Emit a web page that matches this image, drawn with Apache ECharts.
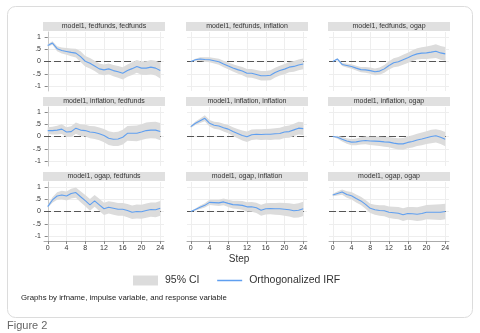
<!DOCTYPE html>
<html>
<head>
<meta charset="utf-8">
<script src="https://cdn.jsdelivr.net/npm/echarts@6/dist/echarts.min.js"></script>
<style>
html,body{margin:0;padding:0;background:#fff;}
#chart{width:480px;height:333px;}
</style>
</head>
<body>
<div id="chart"></div>
<script>
// ---- data ----
const steps = [0,1,2,3,4,5,6,7,8,9,10,11,12,13,14,15,16,17,18,19,20,21,22,23,24];
const xTicks = [0,4,8,12,16,20,24];
const yTicks = [-1,-0.5,0,0.5,1];

const panelTitles = [
  'model1, fedfunds, fedfunds','model1, fedfunds, inflation','model1, fedfunds, ogap',
  'model1, inflation, fedfunds','model1, inflation, inflation','model1, inflation, ogap',
  'model1, ogap, fedfunds','model1, ogap, inflation','model1, ogap, ogap'
];

// fedfunds -> fedfunds
const irf_ff_ff = [0.65,0.75,0.52,0.45,0.41,0.37,0.34,0.20,0.01,-0.07,-0.18,-0.30,-0.34,-0.30,-0.37,-0.42,-0.48,-0.37,-0.29,-0.20,-0.27,-0.27,-0.23,-0.27,-0.37];
const hi_ff_ff  = [0.70,0.82,0.62,0.57,0.55,0.53,0.52,0.42,0.22,0.14,0.03,-0.08,-0.12,-0.08,-0.14,-0.18,-0.23,-0.12,-0.03,0.06,0.00,0.01,0.06,0.03,-0.05];
const lo_ff_ff  = [0.60,0.68,0.42,0.33,0.27,0.21,0.16,-0.02,-0.20,-0.28,-0.39,-0.52,-0.56,-0.52,-0.60,-0.66,-0.73,-0.62,-0.55,-0.46,-0.54,-0.55,-0.52,-0.57,-0.69];
// fedfunds -> inflation
const irf_ff_inf = [0,0.07,0.10,0.08,0.07,0.03,-0.01,-0.10,-0.18,-0.26,-0.33,-0.39,-0.48,-0.48,-0.53,-0.58,-0.58,-0.56,-0.45,-0.37,-0.31,-0.23,-0.20,-0.14,-0.10];
const hi_ff_inf  = [0.00,0.11,0.17,0.17,0.17,0.14,0.11,0.03,-0.04,-0.11,-0.17,-0.22,-0.31,-0.30,-0.35,-0.39,-0.39,-0.36,-0.25,-0.17,-0.10,-0.02,0.02,0.08,0.12];
const lo_ff_inf  = [0.00,0.03,0.03,-0.01,-0.03,-0.08,-0.13,-0.23,-0.32,-0.41,-0.49,-0.56,-0.65,-0.66,-0.71,-0.77,-0.77,-0.76,-0.65,-0.57,-0.52,-0.44,-0.42,-0.36,-0.32];
// fedfunds -> ogap
const irf_ff_og = [0,0.10,-0.12,-0.16,-0.20,-0.27,-0.33,-0.34,-0.37,-0.42,-0.39,-0.30,-0.16,-0.05,-0.01,0.07,0.15,0.24,0.31,0.34,0.35,0.38,0.42,0.35,0.31];
const hi_ff_og  = [0.00,0.14,-0.06,-0.08,-0.11,-0.17,-0.22,-0.22,-0.24,-0.28,-0.24,-0.14,0.01,0.13,0.18,0.27,0.36,0.46,0.54,0.58,0.61,0.65,0.70,0.63,0.59];
const lo_ff_og  = [0.00,0.06,-0.18,-0.24,-0.29,-0.37,-0.44,-0.46,-0.50,-0.56,-0.54,-0.46,-0.33,-0.23,-0.20,-0.13,-0.06,0.02,0.08,0.10,0.10,0.12,0.14,0.07,0.03];
// inflation -> fedfunds
const irf_inf_ff = [0.24,0.24,0.26,0.30,0.18,0.20,0.34,0.26,0.24,0.18,0.16,0.11,0.04,-0.07,-0.11,-0.10,-0.03,0.13,0.13,0.13,0.18,0.24,0.26,0.26,0.20];
const hi_inf_ff  = [0.38,0.40,0.44,0.50,0.38,0.42,0.57,0.50,0.48,0.43,0.42,0.37,0.31,0.21,0.17,0.19,0.27,0.43,0.44,0.45,0.50,0.57,0.59,0.60,0.55];
const lo_inf_ff  = [0.10,0.08,0.08,0.10,-0.02,-0.02,0.11,0.02,0.00,-0.07,-0.10,-0.15,-0.23,-0.35,-0.39,-0.39,-0.33,-0.17,-0.18,-0.19,-0.14,-0.09,-0.07,-0.08,-0.15];
// inflation -> inflation
const irf_inf_inf = [0.40,0.54,0.64,0.74,0.54,0.46,0.43,0.36,0.30,0.20,0.12,0.04,-0.01,0.07,0.09,0.08,0.09,0.09,0.11,0.12,0.18,0.20,0.27,0.34,0.32];
const hi_inf_inf  = [0.45,0.61,0.73,0.86,0.67,0.60,0.58,0.52,0.47,0.38,0.31,0.24,0.20,0.28,0.30,0.30,0.31,0.32,0.34,0.36,0.42,0.45,0.52,0.60,0.58];
const lo_inf_inf  = [0.35,0.47,0.55,0.62,0.41,0.32,0.28,0.20,0.13,0.02,-0.07,-0.16,-0.22,-0.14,-0.12,-0.14,-0.13,-0.14,-0.12,-0.12,-0.06,-0.05,0.02,0.08,0.06];
// inflation -> ogap
const irf_inf_og = [0,-0.03,-0.11,-0.18,-0.23,-0.22,-0.18,-0.16,-0.18,-0.19,-0.20,-0.22,-0.23,-0.27,-0.30,-0.30,-0.24,-0.20,-0.14,-0.10,-0.05,0,0.03,-0.03,-0.11];
const hi_inf_og  = [0.00,0.03,-0.02,-0.07,-0.10,-0.08,-0.03,0.00,-0.01,-0.01,-0.01,-0.02,-0.02,-0.05,-0.07,-0.06,0.00,0.05,0.11,0.16,0.21,0.27,0.30,0.25,0.18];
const lo_inf_og  = [0.00,-0.09,-0.20,-0.29,-0.36,-0.36,-0.33,-0.32,-0.35,-0.37,-0.39,-0.42,-0.44,-0.49,-0.53,-0.54,-0.48,-0.45,-0.39,-0.36,-0.31,-0.27,-0.24,-0.31,-0.40];
// ogap -> fedfunds
const irf_og_ff = [0.20,0.47,0.63,0.67,0.63,0.73,0.77,0.60,0.44,0.27,0.43,0.27,0.11,0.17,0.13,0.09,0.09,0.04,-0.03,0.00,-0.01,0.04,0.08,0.07,0.13];
const hi_og_ff  = [0.25,0.58,0.78,0.84,0.81,0.93,0.98,0.82,0.67,0.51,0.67,0.52,0.36,0.42,0.39,0.35,0.35,0.31,0.24,0.28,0.27,0.33,0.37,0.37,0.43];
const lo_og_ff  = [0.15,0.36,0.48,0.50,0.45,0.53,0.56,0.38,0.21,0.03,0.19,0.02,-0.14,-0.08,-0.13,-0.17,-0.17,-0.23,-0.30,-0.28,-0.29,-0.25,-0.21,-0.23,-0.17];
// ogap -> inflation
const irf_og_inf = [0,0.08,0.17,0.25,0.37,0.36,0.35,0.39,0.33,0.28,0.27,0.25,0.19,0.19,0.15,0.05,0.11,0.12,0.11,0.11,0.09,0.07,0.03,0.05,0.11];
const hi_og_inf  = [0.00,0.12,0.24,0.34,0.48,0.48,0.48,0.53,0.48,0.44,0.44,0.43,0.38,0.39,0.36,0.27,0.34,0.35,0.35,0.36,0.35,0.34,0.31,0.34,0.40];
const lo_og_inf  = [0.00,0.04,0.10,0.16,0.26,0.24,0.22,0.25,0.18,0.12,0.10,0.07,0.00,-0.01,-0.06,-0.17,-0.12,-0.11,-0.13,-0.14,-0.17,-0.20,-0.25,-0.24,-0.18];
// ogap -> ogap
const irf_og_og = [0.67,0.73,0.79,0.69,0.64,0.53,0.43,0.29,0.13,0.07,0.04,0.03,-0.03,-0.05,-0.07,-0.13,-0.08,-0.09,-0.11,-0.08,-0.03,-0.03,-0.03,-0.03,0];
const hi_og_og  = [0.72,0.81,0.90,0.82,0.79,0.69,0.60,0.47,0.32,0.27,0.25,0.25,0.20,0.19,0.18,0.13,0.18,0.18,0.17,0.21,0.26,0.27,0.28,0.29,0.32];
const lo_og_og  = [0.62,0.65,0.68,0.56,0.49,0.37,0.26,0.11,-0.06,-0.13,-0.17,-0.19,-0.26,-0.29,-0.32,-0.39,-0.34,-0.36,-0.39,-0.37,-0.32,-0.33,-0.34,-0.35,-0.32];

const panels = [
  {irf: irf_ff_ff, lo: lo_ff_ff, hi: hi_ff_ff},
  {irf: irf_ff_inf, lo: lo_ff_inf, hi: hi_ff_inf},
  {irf: irf_ff_og, lo: lo_ff_og, hi: hi_ff_og},
  {irf: irf_inf_ff, lo: lo_inf_ff, hi: hi_inf_ff},
  {irf: irf_inf_inf, lo: lo_inf_inf, hi: hi_inf_inf},
  {irf: irf_inf_og, lo: lo_inf_og, hi: hi_inf_og},
  {irf: irf_og_ff, lo: lo_og_ff, hi: hi_og_ff},
  {irf: irf_og_inf, lo: lo_og_inf, hi: hi_og_inf},
  {irf: irf_og_og, lo: lo_og_og, hi: hi_og_og}
];

// ---- layout ----
const colLeft = [44, 187, 329];
const rowTop = [32, 107, 182];
const gw = 120, gh = 59;
const FONT = 'Liberation Sans, Arial, sans-serif';
const BAND = '#dcdcdc';
const BLUE = '#5f9ff0';

const chart = echarts.init(document.getElementById('chart'), null, {renderer: 'canvas'});

const grids = [], xAxes = [], yAxes = [], series = [], graphics = [];

graphics.push({
  type: 'rect', left: 7, top: 6, z: -10,
  shape: {width: 465, height: 311, r: 8},
  style: {fill: '#fff', stroke: '#dcdcdc', lineWidth: 1}
});

const fmtY = v => v === 0 ? '0' : String(v).replace('0.', '.');

function bandRenderer(bandData) {
  return function (params, api) {
    if (params.dataIndex !== 0) return null;
    const upper = bandData.map(d => api.coord([d[0], d[2]]));
    const lower = bandData.map(d => api.coord([d[0], d[1]])).reverse();
    return {
      type: 'polygon',
      shape: {points: upper.concat(lower)},
      style: {fill: BAND, stroke: null}
    };
  };
}

panels.forEach((p, i) => {
  const r = Math.floor(i / 3), c = i % 3;
  grids.push({left: colLeft[c], top: rowTop[r], width: gw, height: gh, containLabel: false});
  xAxes.push({
    type: 'value', gridIndex: i, min: -0.8, max: 24.8,
    axisLine: {show: r === 2, onZero: false, lineStyle: {color: '#aaa', width: 1}},
    axisTick: {show: r === 2, length: 3, customValues: xTicks, lineStyle: {color: '#888'}},
    axisLabel: {show: r === 2, customValues: xTicks, fontSize: 7, color: '#333', margin: 4, fontFamily: FONT},
    splitLine: {show: true, lineStyle: {color: '#eeeeee', width: 1}}
  });
  yAxes.push({
    type: 'value', gridIndex: i, min: -1.2, max: 1.2,
    axisLine: {show: c === 0, lineStyle: {color: '#c8c8c8', width: 1}},
    axisTick: {show: c === 0, length: 3, customValues: yTicks, lineStyle: {color: '#888'}},
    axisLabel: {show: c === 0, customValues: yTicks, fontSize: 7, color: '#333', margin: 3, fontFamily: FONT, formatter: fmtY},
    splitLine: {show: true, lineStyle: {color: '#eeeeee', width: 1}}
  });
  const bandData = steps.map((s, k) => [s, p.lo[k], p.hi[k]]);
  const irfData = steps.map((s, k) => [s, p.irf[k]]);
  series.push({
    name: '95% CI', type: 'custom', xAxisIndex: i, yAxisIndex: i,
    data: bandData, encode: {x: 0, y: [1, 2]},
    itemStyle: {color: BAND}, color: BAND,
    renderItem: bandRenderer(bandData), silent: true, z: 2,
    markLine: {
      silent: true, symbol: 'none', z: 1, animation: false,
      label: {show: false},
      lineStyle: {color: '#555', type: [7, 3], width: 1},
      data: [{yAxis: 0}]
    }
  });
  series.push({
    name: 'Orthogonalized IRF', type: 'line', xAxisIndex: i, yAxisIndex: i,
    data: irfData, color: BLUE, symbol: 'none', showSymbol: false,
    lineStyle: {color: BLUE, width: 1.1}, silent: true, z: 3
  });
  // title bar
  graphics.push({
    type: 'rect', left: colLeft[c] - 1, top: rowTop[r] - 10,
    shape: {width: gw + 2, height: 9}, style: {fill: '#e0e0e0'}, z: 1
  });
  graphics.push({
    type: 'text', x: colLeft[c] + gw / 2, y: rowTop[r] - 5.5, z: 2,
    style: {text: panelTitles[i], fill: '#333', font: '7px ' + FONT, align: 'center', verticalAlign: 'middle'}
  });
});

graphics.push({type: 'text', x: 239, y: 259, style: {text: 'Step', fill: '#333', font: '10px ' + FONT, align: 'center', verticalAlign: 'middle'}});
graphics.push({type: 'text', x: 21, y: 298, style: {text: 'Graphs by irfname, impulse variable, and response variable', fill: '#222', font: '7.8px ' + FONT, align: 'left', verticalAlign: 'middle'}});
graphics.push({type: 'text', x: 7, y: 326, style: {text: 'Figure 2', fill: '#666', font: '11px ' + FONT, align: 'left', verticalAlign: 'middle'}});

chart.setOption({
  animation: false,
  backgroundColor: '#fff',
  grid: grids,
  xAxis: xAxes,
  yAxis: yAxes,
  legend: {
    left: 133, top: 275, padding: 0, itemWidth: 25, itemHeight: 10, itemGap: 17,
    selectedMode: false,
    textStyle: {fontSize: 10.5, color: '#333', fontFamily: FONT, padding: [0, 0, 0, 2]},
    data: [
      {name: '95% CI', icon: 'rect', itemStyle: {color: BAND}},
      {name: 'Orthogonalized IRF', itemStyle: {opacity: 0}, lineStyle: {color: BLUE, width: 1.5}}
    ]
  },
  graphic: graphics,
  series: series
});
</script>
</body>
</html>
